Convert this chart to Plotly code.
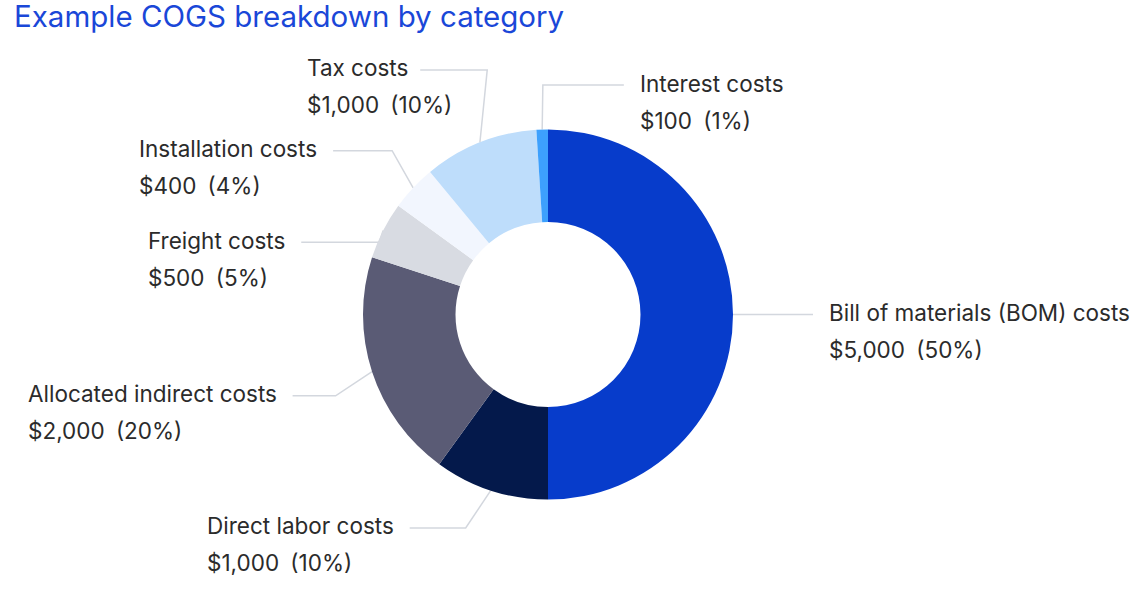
import math
import plotly.graph_objects as go

# COGS breakdown, clockwise from 12 o'clock
categories = ["Bill of materials (BOM) costs", "Direct labor costs", "Allocated indirect costs",
              "Freight costs", "Installation costs", "Tax costs", "Interest costs"]
amounts = [5000, 1000, 2000, 500, 400, 1000, 100]
colors = ["#073CCB", "#04194B", "#5A5B75", "#D8DBE2", "#F2F6FE", "#BEDDFB", "#3DA0FD"]

W, H = 1142, 593
CX, CY, R = 548, 314.5, 185  # page pixels
FONT = "Inter"
TEXT_COLOR = "#2B2B2B"
LINE_COLOR = "#D3D7DE"
LABEL_SIZE = 22.5
ROW_GAP = 37  # distance between name and value rows

# label layout only: elbow nudge (dx, dy), horizontal run, side (+1 right / -1 left)
leader_layout = {
    "Bill of materials (BOM) costs": (0, 0, 80, 1),
    "Direct labor costs": (-12, -3, 56, -1),
    "Allocated indirect costs": (4, 11, 43, -1),
    "Freight costs": (34, 31, 78, -1),
    "Installation costs": (10, -8, 59, -1),
    "Tax costs": (23, -33, 67, -1),
    "Interest costs": (2, -2, 81, 1),
}

fig = go.Figure()

fig.add_trace(go.Pie(labels=categories, values=amounts, hole=0.5, sort=False,
                     direction="clockwise", rotation=0,
                     marker=dict(colors=colors), textinfo="none",
                     hoverinfo="label+value+percent", showlegend=False,
                     domain=dict(x=[(CX - R) / W, (CX + R) / W],
                                 y=[1 - (CY + R) / H, 1 - (CY - R) / H])))

total = sum(amounts)
cum = 0
annotations = []
for name, val in zip(categories, amounts):
    mid = math.radians((cum + val / 2) / total * 360)
    cum += val
    sx, sy = math.sin(mid), -math.cos(mid)
    dx, dy, run, side = leader_layout[name]
    p0 = (CX + R * sx, CY + R * sy)
    el = (CX + 1.23 * R * sx + dx, CY + 1.23 * R * sy + dy)
    if side > 0 and sx > 0.99:
        el = p0  # straight horizontal line
    end = (el[0] + side * run, el[1])
    fig.add_trace(go.Scatter(x=[p0[0], el[0], end[0]], y=[p0[1], el[1], end[1]],
                             mode="lines", line=dict(color=LINE_COLOR, width=1.5),
                             hoverinfo="skip", showlegend=False))
    tx = end[0] + side * 14
    pct = round(val / total * 100)
    value_txt = f"${val:,}\u2002({pct}%)"
    span = f"<span style='font-size:{LABEL_SIZE}px'>%s</span>"
    label = span % name + "<br>" + span % value_txt
    anchor = "left" if side > 0 else "right"
    if side < 0 and len(value_txt) > len(name):
        # the name row sits against the line, value row may run past it
        tx -= 0.5 * LABEL_SIZE * len(name)
        anchor = "left"
    annotations.append(dict(x=tx, y=el[1] - 2 + ROW_GAP / 2, xref="x", yref="y", text=label,
                            showarrow=False, align="left",
                            xanchor=anchor, yanchor="middle",
                            font=dict(family=FONT, size=ROW_GAP / 1.3, color=TEXT_COLOR)))

annotations.append(dict(x=12, y=15.5, xref="x", yref="y",
                        text="Example COGS breakdown by category", showarrow=False,
                        xanchor="left", yanchor="middle",
                        font=dict(family=FONT, size=29.5, color="#1A47D8")))

fig.update_layout(width=W, height=H, margin=dict(l=0, r=0, t=0, b=0),
                  paper_bgcolor="white", plot_bgcolor="rgba(0,0,0,0)",
                  font_family=FONT,
                  xaxis=dict(range=[0, W], visible=False, fixedrange=True),
                  yaxis=dict(range=[H, 0], visible=False, fixedrange=True),
                  annotations=annotations)

# drop the browser's default body margin so the figure fills the window
fig.write_html("out.html", config={"displayModeBar": False},
               post_script="document.body.style.margin = '0';")
